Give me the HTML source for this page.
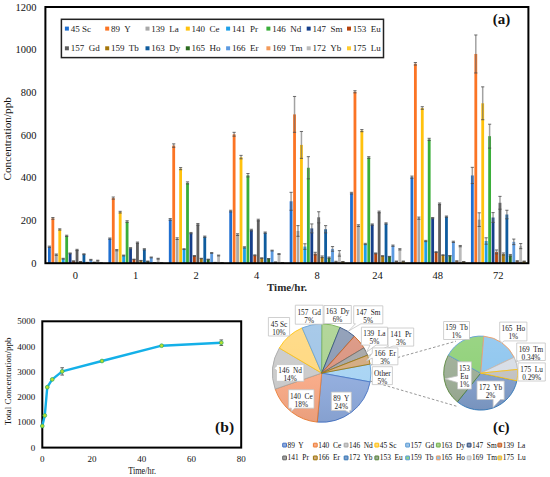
<!DOCTYPE html><html><head><meta charset="utf-8"><style>html,body{margin:0;padding:0;background:#fff;width:550px;height:477px;overflow:hidden}svg{display:block}</style></head><body>
<svg width="550" height="477" viewBox="0 0 550 477" font-family="Liberation Serif, serif">
<rect width="550" height="477" fill="#fff"/>
<text x="36.5" y="266.8" font-size="10.5" text-anchor="end" fill="#111">0</text>
<text x="36.5" y="224.1" font-size="10.5" text-anchor="end" fill="#111">200</text>
<text x="36.5" y="181.4" font-size="10.5" text-anchor="end" fill="#111">400</text>
<text x="36.5" y="138.7" font-size="10.5" text-anchor="end" fill="#111">600</text>
<text x="36.5" y="96.0" font-size="10.5" text-anchor="end" fill="#111">800</text>
<text x="36.5" y="53.3" font-size="10.5" text-anchor="end" fill="#111">1000</text>
<text x="36.5" y="10.6" font-size="10.5" text-anchor="end" fill="#111">1200</text>
<text x="75.3" y="278.6" font-size="10.5" text-anchor="middle" fill="#111">0</text>
<text x="135.7" y="278.6" font-size="10.5" text-anchor="middle" fill="#111">1</text>
<text x="196.1" y="278.6" font-size="10.5" text-anchor="middle" fill="#111">2</text>
<text x="256.6" y="278.6" font-size="10.5" text-anchor="middle" fill="#111">4</text>
<text x="317.0" y="278.6" font-size="10.5" text-anchor="middle" fill="#111">8</text>
<text x="377.4" y="278.6" font-size="10.5" text-anchor="middle" fill="#111">24</text>
<text x="437.8" y="278.6" font-size="10.5" text-anchor="middle" fill="#111">48</text>
<text x="498.2" y="278.6" font-size="10.5" text-anchor="middle" fill="#111">72</text>
<text transform="translate(11,138.8) rotate(-90)" font-size="11.2" text-anchor="middle" fill="#111">Concentration/ppb</text>
<text x="287" y="291" font-size="11" font-weight="bold" text-anchor="middle" fill="#2a2a2a">Time/hr.</text>
<rect x="48.00" y="246.76" width="2.8" height="16.44" fill="#1f6fd1"/>
<rect x="51.46" y="218.36" width="2.8" height="44.84" fill="#fb7424"/>
<rect x="54.91" y="254.66" width="2.8" height="8.54" fill="#a8a8a8"/>
<rect x="58.36" y="229.47" width="2.8" height="33.73" fill="#ffc20e"/>
<rect x="61.81" y="258.72" width="2.8" height="4.48" fill="#1ea0e8"/>
<rect x="65.27" y="235.87" width="2.8" height="27.33" fill="#3aae3a"/>
<rect x="68.72" y="253.38" width="2.8" height="9.82" fill="#163f8a"/>
<rect x="72.17" y="261.06" width="2.8" height="2.13" fill="#b6440e"/>
<rect x="75.63" y="249.96" width="2.8" height="13.24" fill="#5e5e5e"/>
<rect x="79.08" y="261.71" width="2.8" height="1.49" fill="#a6760a"/>
<rect x="82.53" y="254.23" width="2.8" height="8.97" fill="#0f5c9e"/>
<rect x="85.99" y="262.56" width="2.8" height="0.64" fill="#2b6b1f"/>
<rect x="89.44" y="259.78" width="2.8" height="3.42" fill="#5c9ae0"/>
<rect x="92.89" y="262.35" width="2.8" height="0.85" fill="#f39a5a"/>
<rect x="96.34" y="260.64" width="2.8" height="2.56" fill="#bababa"/>
<rect x="99.80" y="262.99" width="2.8" height="0.21" fill="#ffcb2f"/>
<rect x="108.42" y="238.65" width="2.8" height="24.55" fill="#1f6fd1"/>
<rect x="111.88" y="198.08" width="2.8" height="65.12" fill="#fb7424"/>
<rect x="115.33" y="250.18" width="2.8" height="13.02" fill="#a8a8a8"/>
<rect x="118.78" y="212.17" width="2.8" height="51.03" fill="#ffc20e"/>
<rect x="122.23" y="255.51" width="2.8" height="7.69" fill="#1ea0e8"/>
<rect x="125.69" y="221.57" width="2.8" height="41.63" fill="#3aae3a"/>
<rect x="129.14" y="248.25" width="2.8" height="14.95" fill="#163f8a"/>
<rect x="132.59" y="259.36" width="2.8" height="3.84" fill="#b6440e"/>
<rect x="136.05" y="242.70" width="2.8" height="20.50" fill="#5e5e5e"/>
<rect x="139.50" y="260.64" width="2.8" height="2.56" fill="#a6760a"/>
<rect x="142.95" y="249.32" width="2.8" height="13.88" fill="#0f5c9e"/>
<rect x="146.41" y="261.28" width="2.8" height="1.92" fill="#2b6b1f"/>
<rect x="149.86" y="257.44" width="2.8" height="5.76" fill="#5c9ae0"/>
<rect x="153.31" y="262.77" width="2.8" height="0.43" fill="#f39a5a"/>
<rect x="156.76" y="258.72" width="2.8" height="4.48" fill="#bababa"/>
<rect x="160.22" y="262.99" width="2.8" height="0.21" fill="#ffcb2f"/>
<rect x="168.84" y="219.43" width="2.8" height="43.77" fill="#1f6fd1"/>
<rect x="172.30" y="145.56" width="2.8" height="117.64" fill="#fb7424"/>
<rect x="175.75" y="238.65" width="2.8" height="24.55" fill="#a8a8a8"/>
<rect x="179.20" y="168.62" width="2.8" height="94.58" fill="#ffc20e"/>
<rect x="182.65" y="249.11" width="2.8" height="14.09" fill="#1ea0e8"/>
<rect x="186.11" y="182.92" width="2.8" height="80.28" fill="#3aae3a"/>
<rect x="189.56" y="233.10" width="2.8" height="30.10" fill="#163f8a"/>
<rect x="193.01" y="255.94" width="2.8" height="7.26" fill="#b6440e"/>
<rect x="196.47" y="224.34" width="2.8" height="38.86" fill="#5e5e5e"/>
<rect x="199.92" y="258.50" width="2.8" height="4.70" fill="#a6760a"/>
<rect x="203.37" y="236.73" width="2.8" height="26.47" fill="#0f5c9e"/>
<rect x="206.83" y="259.36" width="2.8" height="3.84" fill="#2b6b1f"/>
<rect x="210.28" y="252.95" width="2.8" height="10.25" fill="#5c9ae0"/>
<rect x="213.73" y="262.56" width="2.8" height="0.64" fill="#f39a5a"/>
<rect x="217.18" y="255.51" width="2.8" height="7.69" fill="#bababa"/>
<rect x="220.64" y="262.77" width="2.8" height="0.43" fill="#ffcb2f"/>
<rect x="229.26" y="211.11" width="2.8" height="52.09" fill="#1f6fd1"/>
<rect x="232.72" y="134.25" width="2.8" height="128.95" fill="#fb7424"/>
<rect x="236.17" y="234.59" width="2.8" height="28.61" fill="#a8a8a8"/>
<rect x="239.62" y="157.09" width="2.8" height="106.11" fill="#ffc20e"/>
<rect x="243.07" y="247.40" width="2.8" height="15.80" fill="#1ea0e8"/>
<rect x="246.53" y="175.24" width="2.8" height="87.96" fill="#3aae3a"/>
<rect x="249.98" y="230.11" width="2.8" height="33.09" fill="#163f8a"/>
<rect x="253.43" y="255.30" width="2.8" height="7.90" fill="#b6440e"/>
<rect x="256.89" y="220.07" width="2.8" height="43.13" fill="#5e5e5e"/>
<rect x="260.34" y="258.08" width="2.8" height="5.12" fill="#a6760a"/>
<rect x="263.79" y="232.67" width="2.8" height="30.53" fill="#0f5c9e"/>
<rect x="267.25" y="258.72" width="2.8" height="4.48" fill="#2b6b1f"/>
<rect x="270.70" y="250.60" width="2.8" height="12.60" fill="#5c9ae0"/>
<rect x="274.15" y="262.13" width="2.8" height="1.07" fill="#f39a5a"/>
<rect x="277.60" y="254.02" width="2.8" height="9.18" fill="#bababa"/>
<rect x="281.06" y="262.77" width="2.8" height="0.43" fill="#ffcb2f"/>
<rect x="289.68" y="201.28" width="2.8" height="61.91" fill="#1f6fd1"/>
<rect x="293.14" y="114.39" width="2.8" height="148.81" fill="#fb7424"/>
<rect x="296.59" y="230.96" width="2.8" height="32.24" fill="#a8a8a8"/>
<rect x="300.04" y="144.92" width="2.8" height="118.28" fill="#ffc20e"/>
<rect x="303.49" y="246.55" width="2.8" height="16.65" fill="#1ea0e8"/>
<rect x="306.95" y="167.77" width="2.8" height="95.43" fill="#3aae3a"/>
<rect x="310.40" y="228.40" width="2.8" height="34.80" fill="#163f8a"/>
<rect x="313.85" y="253.59" width="2.8" height="9.61" fill="#b6440e"/>
<rect x="317.31" y="217.30" width="2.8" height="45.90" fill="#5e5e5e"/>
<rect x="320.76" y="256.80" width="2.8" height="6.41" fill="#a6760a"/>
<rect x="324.21" y="229.25" width="2.8" height="33.95" fill="#0f5c9e"/>
<rect x="327.67" y="257.65" width="2.8" height="5.55" fill="#2b6b1f"/>
<rect x="331.12" y="248.90" width="2.8" height="14.30" fill="#5c9ae0"/>
<rect x="334.57" y="261.71" width="2.8" height="1.49" fill="#f39a5a"/>
<rect x="338.02" y="253.38" width="2.8" height="9.82" fill="#bababa"/>
<rect x="341.48" y="261.71" width="2.8" height="1.49" fill="#ffcb2f"/>
<rect x="350.10" y="193.17" width="2.8" height="70.03" fill="#1f6fd1"/>
<rect x="353.56" y="91.76" width="2.8" height="171.44" fill="#fb7424"/>
<rect x="357.01" y="225.62" width="2.8" height="37.58" fill="#a8a8a8"/>
<rect x="360.46" y="130.62" width="2.8" height="132.58" fill="#ffc20e"/>
<rect x="363.91" y="243.98" width="2.8" height="19.21" fill="#1ea0e8"/>
<rect x="367.37" y="157.52" width="2.8" height="105.68" fill="#3aae3a"/>
<rect x="370.82" y="224.56" width="2.8" height="38.64" fill="#163f8a"/>
<rect x="374.27" y="253.38" width="2.8" height="9.82" fill="#b6440e"/>
<rect x="377.73" y="211.96" width="2.8" height="51.24" fill="#5e5e5e"/>
<rect x="381.18" y="255.94" width="2.8" height="7.26" fill="#a6760a"/>
<rect x="384.63" y="223.49" width="2.8" height="39.71" fill="#0f5c9e"/>
<rect x="388.09" y="256.58" width="2.8" height="6.62" fill="#2b6b1f"/>
<rect x="391.54" y="245.69" width="2.8" height="17.51" fill="#5c9ae0"/>
<rect x="394.99" y="261.28" width="2.8" height="1.92" fill="#f39a5a"/>
<rect x="398.44" y="249.32" width="2.8" height="13.88" fill="#bababa"/>
<rect x="401.90" y="261.28" width="2.8" height="1.92" fill="#ffcb2f"/>
<rect x="410.52" y="177.16" width="2.8" height="86.04" fill="#1f6fd1"/>
<rect x="413.98" y="63.79" width="2.8" height="199.41" fill="#fb7424"/>
<rect x="417.43" y="218.15" width="2.8" height="45.05" fill="#a8a8a8"/>
<rect x="420.88" y="107.99" width="2.8" height="155.21" fill="#ffc20e"/>
<rect x="424.33" y="241.00" width="2.8" height="22.20" fill="#1ea0e8"/>
<rect x="427.79" y="139.37" width="2.8" height="123.83" fill="#3aae3a"/>
<rect x="431.24" y="218.15" width="2.8" height="45.05" fill="#163f8a"/>
<rect x="434.69" y="252.10" width="2.8" height="11.10" fill="#b6440e"/>
<rect x="438.15" y="203.85" width="2.8" height="59.35" fill="#5e5e5e"/>
<rect x="441.60" y="255.09" width="2.8" height="8.11" fill="#a6760a"/>
<rect x="445.05" y="216.66" width="2.8" height="46.54" fill="#0f5c9e"/>
<rect x="448.51" y="255.73" width="2.8" height="7.47" fill="#2b6b1f"/>
<rect x="451.96" y="241.85" width="2.8" height="21.35" fill="#5c9ae0"/>
<rect x="455.41" y="261.06" width="2.8" height="2.13" fill="#f39a5a"/>
<rect x="458.86" y="246.12" width="2.8" height="17.08" fill="#bababa"/>
<rect x="462.32" y="261.71" width="2.8" height="1.49" fill="#ffcb2f"/>
<rect x="470.94" y="175.45" width="2.8" height="87.75" fill="#1f6fd1"/>
<rect x="474.40" y="53.97" width="2.8" height="209.23" fill="#fb7424"/>
<rect x="477.85" y="219.65" width="2.8" height="43.55" fill="#a8a8a8"/>
<rect x="481.30" y="103.29" width="2.8" height="159.91" fill="#ffc20e"/>
<rect x="484.75" y="241.00" width="2.8" height="22.20" fill="#1ea0e8"/>
<rect x="488.21" y="136.17" width="2.8" height="127.03" fill="#3aae3a"/>
<rect x="491.66" y="217.51" width="2.8" height="45.69" fill="#163f8a"/>
<rect x="495.11" y="251.88" width="2.8" height="11.32" fill="#b6440e"/>
<rect x="498.57" y="202.78" width="2.8" height="60.42" fill="#5e5e5e"/>
<rect x="502.02" y="254.02" width="2.8" height="9.18" fill="#a6760a"/>
<rect x="505.47" y="214.52" width="2.8" height="48.68" fill="#0f5c9e"/>
<rect x="508.93" y="255.30" width="2.8" height="7.90" fill="#2b6b1f"/>
<rect x="512.38" y="241.85" width="2.8" height="21.35" fill="#5c9ae0"/>
<rect x="515.83" y="261.06" width="2.8" height="2.13" fill="#f39a5a"/>
<rect x="519.28" y="246.12" width="2.8" height="17.08" fill="#bababa"/>
<rect x="522.74" y="261.28" width="2.8" height="1.92" fill="#ffcb2f"/>
<path d="M49.40 246.12V247.40" stroke="#707070" stroke-opacity="0.65" stroke-width="1.5" fill="none"/><path d="M47.80 246.12h3.2M47.80 247.40h3.2" stroke="#4a4a4a" stroke-width="0.8" fill="none"/>
<path d="M52.86 217.51V219.22" stroke="#707070" stroke-opacity="0.65" stroke-width="1.5" fill="none"/><path d="M51.26 217.51h3.2M51.26 219.22h3.2" stroke="#4a4a4a" stroke-width="0.8" fill="none"/>
<path d="M56.31 254.02V255.30" stroke="#707070" stroke-opacity="0.65" stroke-width="1.5" fill="none"/><path d="M54.71 254.02h3.2M54.71 255.30h3.2" stroke="#4a4a4a" stroke-width="0.8" fill="none"/>
<path d="M59.76 228.83V230.11" stroke="#707070" stroke-opacity="0.65" stroke-width="1.5" fill="none"/><path d="M58.16 228.83h3.2M58.16 230.11h3.2" stroke="#4a4a4a" stroke-width="0.8" fill="none"/>
<path d="M63.21 258.29V259.14" stroke="#707070" stroke-opacity="0.65" stroke-width="1.5" fill="none"/><path d="M61.61 258.29h3.2M61.61 259.14h3.2" stroke="#4a4a4a" stroke-width="0.8" fill="none"/>
<path d="M66.67 235.23V236.51" stroke="#707070" stroke-opacity="0.65" stroke-width="1.5" fill="none"/><path d="M65.07 235.23h3.2M65.07 236.51h3.2" stroke="#4a4a4a" stroke-width="0.8" fill="none"/>
<path d="M70.12 252.95V253.81" stroke="#707070" stroke-opacity="0.65" stroke-width="1.5" fill="none"/><path d="M68.52 252.95h3.2M68.52 253.81h3.2" stroke="#4a4a4a" stroke-width="0.8" fill="none"/>
<path d="M73.57 260.85V261.28" stroke="#707070" stroke-opacity="0.65" stroke-width="1.5" fill="none"/><path d="M71.97 260.85h3.2M71.97 261.28h3.2" stroke="#4a4a4a" stroke-width="0.8" fill="none"/>
<path d="M77.03 249.32V250.60" stroke="#707070" stroke-opacity="0.65" stroke-width="1.5" fill="none"/><path d="M75.43 249.32h3.2M75.43 250.60h3.2" stroke="#4a4a4a" stroke-width="0.8" fill="none"/>
<path d="M80.48 261.49V261.92" stroke="#707070" stroke-opacity="0.65" stroke-width="1.5" fill="none"/><path d="M78.88 261.49h3.2M78.88 261.92h3.2" stroke="#4a4a4a" stroke-width="0.8" fill="none"/>
<path d="M83.93 253.81V254.66" stroke="#707070" stroke-opacity="0.65" stroke-width="1.5" fill="none"/><path d="M82.33 253.81h3.2M82.33 254.66h3.2" stroke="#4a4a4a" stroke-width="0.8" fill="none"/>
<path d="M87.39 262.35V262.77" stroke="#707070" stroke-opacity="0.65" stroke-width="1.5" fill="none"/><path d="M85.79 262.35h3.2M85.79 262.77h3.2" stroke="#4a4a4a" stroke-width="0.8" fill="none"/>
<path d="M90.84 259.36V260.21" stroke="#707070" stroke-opacity="0.65" stroke-width="1.5" fill="none"/><path d="M89.24 259.36h3.2M89.24 260.21h3.2" stroke="#4a4a4a" stroke-width="0.8" fill="none"/>
<path d="M94.29 262.13V262.56" stroke="#707070" stroke-opacity="0.65" stroke-width="1.5" fill="none"/><path d="M92.69 262.13h3.2M92.69 262.56h3.2" stroke="#4a4a4a" stroke-width="0.8" fill="none"/>
<path d="M97.74 260.21V261.06" stroke="#707070" stroke-opacity="0.65" stroke-width="1.5" fill="none"/><path d="M96.14 260.21h3.2M96.14 261.06h3.2" stroke="#4a4a4a" stroke-width="0.8" fill="none"/>
<path d="M101.20 262.99V262.99" stroke="#707070" stroke-opacity="0.65" stroke-width="1.5" fill="none"/><path d="M99.60 262.99h3.2M99.60 262.99h3.2" stroke="#4a4a4a" stroke-width="0.8" fill="none"/>
<path d="M109.82 238.01V239.29" stroke="#707070" stroke-opacity="0.65" stroke-width="1.5" fill="none"/><path d="M108.22 238.01h3.2M108.22 239.29h3.2" stroke="#4a4a4a" stroke-width="0.8" fill="none"/>
<path d="M113.28 197.01V199.15" stroke="#707070" stroke-opacity="0.65" stroke-width="1.5" fill="none"/><path d="M111.68 197.01h3.2M111.68 199.15h3.2" stroke="#4a4a4a" stroke-width="0.8" fill="none"/>
<path d="M116.73 249.54V250.82" stroke="#707070" stroke-opacity="0.65" stroke-width="1.5" fill="none"/><path d="M115.13 249.54h3.2M115.13 250.82h3.2" stroke="#4a4a4a" stroke-width="0.8" fill="none"/>
<path d="M120.18 211.32V213.03" stroke="#707070" stroke-opacity="0.65" stroke-width="1.5" fill="none"/><path d="M118.58 211.32h3.2M118.58 213.03h3.2" stroke="#4a4a4a" stroke-width="0.8" fill="none"/>
<path d="M123.63 255.09V255.94" stroke="#707070" stroke-opacity="0.65" stroke-width="1.5" fill="none"/><path d="M122.03 255.09h3.2M122.03 255.94h3.2" stroke="#4a4a4a" stroke-width="0.8" fill="none"/>
<path d="M127.09 220.71V222.42" stroke="#707070" stroke-opacity="0.65" stroke-width="1.5" fill="none"/><path d="M125.49 220.71h3.2M125.49 222.42h3.2" stroke="#4a4a4a" stroke-width="0.8" fill="none"/>
<path d="M130.54 247.61V248.90" stroke="#707070" stroke-opacity="0.65" stroke-width="1.5" fill="none"/><path d="M128.94 247.61h3.2M128.94 248.90h3.2" stroke="#4a4a4a" stroke-width="0.8" fill="none"/>
<path d="M133.99 259.14V259.57" stroke="#707070" stroke-opacity="0.65" stroke-width="1.5" fill="none"/><path d="M132.39 259.14h3.2M132.39 259.57h3.2" stroke="#4a4a4a" stroke-width="0.8" fill="none"/>
<path d="M137.45 242.06V243.34" stroke="#707070" stroke-opacity="0.65" stroke-width="1.5" fill="none"/><path d="M135.85 242.06h3.2M135.85 243.34h3.2" stroke="#4a4a4a" stroke-width="0.8" fill="none"/>
<path d="M140.90 260.42V260.85" stroke="#707070" stroke-opacity="0.65" stroke-width="1.5" fill="none"/><path d="M139.30 260.42h3.2M139.30 260.85h3.2" stroke="#4a4a4a" stroke-width="0.8" fill="none"/>
<path d="M144.35 248.68V249.96" stroke="#707070" stroke-opacity="0.65" stroke-width="1.5" fill="none"/><path d="M142.75 248.68h3.2M142.75 249.96h3.2" stroke="#4a4a4a" stroke-width="0.8" fill="none"/>
<path d="M147.81 261.06V261.49" stroke="#707070" stroke-opacity="0.65" stroke-width="1.5" fill="none"/><path d="M146.21 261.06h3.2M146.21 261.49h3.2" stroke="#4a4a4a" stroke-width="0.8" fill="none"/>
<path d="M151.26 257.01V257.86" stroke="#707070" stroke-opacity="0.65" stroke-width="1.5" fill="none"/><path d="M149.66 257.01h3.2M149.66 257.86h3.2" stroke="#4a4a4a" stroke-width="0.8" fill="none"/>
<path d="M154.71 262.56V262.99" stroke="#707070" stroke-opacity="0.65" stroke-width="1.5" fill="none"/><path d="M153.11 262.56h3.2M153.11 262.99h3.2" stroke="#4a4a4a" stroke-width="0.8" fill="none"/>
<path d="M158.16 258.29V259.14" stroke="#707070" stroke-opacity="0.65" stroke-width="1.5" fill="none"/><path d="M156.56 258.29h3.2M156.56 259.14h3.2" stroke="#4a4a4a" stroke-width="0.8" fill="none"/>
<path d="M161.62 262.99V262.99" stroke="#707070" stroke-opacity="0.65" stroke-width="1.5" fill="none"/><path d="M160.02 262.99h3.2M160.02 262.99h3.2" stroke="#4a4a4a" stroke-width="0.8" fill="none"/>
<path d="M170.24 218.58V220.29" stroke="#707070" stroke-opacity="0.65" stroke-width="1.5" fill="none"/><path d="M168.64 218.58h3.2M168.64 220.29h3.2" stroke="#4a4a4a" stroke-width="0.8" fill="none"/>
<path d="M173.70 143.85V147.27" stroke="#707070" stroke-opacity="0.65" stroke-width="1.5" fill="none"/><path d="M172.10 143.85h3.2M172.10 147.27h3.2" stroke="#4a4a4a" stroke-width="0.8" fill="none"/>
<path d="M177.15 237.79V239.50" stroke="#707070" stroke-opacity="0.65" stroke-width="1.5" fill="none"/><path d="M175.55 237.79h3.2M175.55 239.50h3.2" stroke="#4a4a4a" stroke-width="0.8" fill="none"/>
<path d="M180.60 167.55V169.69" stroke="#707070" stroke-opacity="0.65" stroke-width="1.5" fill="none"/><path d="M179.00 167.55h3.2M179.00 169.69h3.2" stroke="#4a4a4a" stroke-width="0.8" fill="none"/>
<path d="M184.05 248.68V249.54" stroke="#707070" stroke-opacity="0.65" stroke-width="1.5" fill="none"/><path d="M182.45 248.68h3.2M182.45 249.54h3.2" stroke="#4a4a4a" stroke-width="0.8" fill="none"/>
<path d="M187.51 181.86V183.99" stroke="#707070" stroke-opacity="0.65" stroke-width="1.5" fill="none"/><path d="M185.91 181.86h3.2M185.91 183.99h3.2" stroke="#4a4a4a" stroke-width="0.8" fill="none"/>
<path d="M190.96 232.46V233.74" stroke="#707070" stroke-opacity="0.65" stroke-width="1.5" fill="none"/><path d="M189.36 232.46h3.2M189.36 233.74h3.2" stroke="#4a4a4a" stroke-width="0.8" fill="none"/>
<path d="M194.41 255.51V256.37" stroke="#707070" stroke-opacity="0.65" stroke-width="1.5" fill="none"/><path d="M192.81 255.51h3.2M192.81 256.37h3.2" stroke="#4a4a4a" stroke-width="0.8" fill="none"/>
<path d="M197.87 223.49V225.20" stroke="#707070" stroke-opacity="0.65" stroke-width="1.5" fill="none"/><path d="M196.27 223.49h3.2M196.27 225.20h3.2" stroke="#4a4a4a" stroke-width="0.8" fill="none"/>
<path d="M201.32 258.29V258.72" stroke="#707070" stroke-opacity="0.65" stroke-width="1.5" fill="none"/><path d="M199.72 258.29h3.2M199.72 258.72h3.2" stroke="#4a4a4a" stroke-width="0.8" fill="none"/>
<path d="M204.77 236.09V237.37" stroke="#707070" stroke-opacity="0.65" stroke-width="1.5" fill="none"/><path d="M203.17 236.09h3.2M203.17 237.37h3.2" stroke="#4a4a4a" stroke-width="0.8" fill="none"/>
<path d="M208.23 259.14V259.57" stroke="#707070" stroke-opacity="0.65" stroke-width="1.5" fill="none"/><path d="M206.63 259.14h3.2M206.63 259.57h3.2" stroke="#4a4a4a" stroke-width="0.8" fill="none"/>
<path d="M211.68 252.52V253.38" stroke="#707070" stroke-opacity="0.65" stroke-width="1.5" fill="none"/><path d="M210.08 252.52h3.2M210.08 253.38h3.2" stroke="#4a4a4a" stroke-width="0.8" fill="none"/>
<path d="M215.13 262.35V262.77" stroke="#707070" stroke-opacity="0.65" stroke-width="1.5" fill="none"/><path d="M213.53 262.35h3.2M213.53 262.77h3.2" stroke="#4a4a4a" stroke-width="0.8" fill="none"/>
<path d="M218.58 255.09V255.94" stroke="#707070" stroke-opacity="0.65" stroke-width="1.5" fill="none"/><path d="M216.98 255.09h3.2M216.98 255.94h3.2" stroke="#4a4a4a" stroke-width="0.8" fill="none"/>
<path d="M222.04 262.77V262.77" stroke="#707070" stroke-opacity="0.65" stroke-width="1.5" fill="none"/><path d="M220.44 262.77h3.2M220.44 262.77h3.2" stroke="#4a4a4a" stroke-width="0.8" fill="none"/>
<path d="M230.66 210.25V211.96" stroke="#707070" stroke-opacity="0.65" stroke-width="1.5" fill="none"/><path d="M229.06 210.25h3.2M229.06 211.96h3.2" stroke="#4a4a4a" stroke-width="0.8" fill="none"/>
<path d="M234.12 132.32V136.17" stroke="#707070" stroke-opacity="0.65" stroke-width="1.5" fill="none"/><path d="M232.52 132.32h3.2M232.52 136.17h3.2" stroke="#4a4a4a" stroke-width="0.8" fill="none"/>
<path d="M237.57 233.74V235.44" stroke="#707070" stroke-opacity="0.65" stroke-width="1.5" fill="none"/><path d="M235.97 233.74h3.2M235.97 235.44h3.2" stroke="#4a4a4a" stroke-width="0.8" fill="none"/>
<path d="M241.02 155.38V158.80" stroke="#707070" stroke-opacity="0.65" stroke-width="1.5" fill="none"/><path d="M239.42 155.38h3.2M239.42 158.80h3.2" stroke="#4a4a4a" stroke-width="0.8" fill="none"/>
<path d="M244.47 246.76V248.04" stroke="#707070" stroke-opacity="0.65" stroke-width="1.5" fill="none"/><path d="M242.87 246.76h3.2M242.87 248.04h3.2" stroke="#4a4a4a" stroke-width="0.8" fill="none"/>
<path d="M247.93 173.53V176.95" stroke="#707070" stroke-opacity="0.65" stroke-width="1.5" fill="none"/><path d="M246.33 173.53h3.2M246.33 176.95h3.2" stroke="#4a4a4a" stroke-width="0.8" fill="none"/>
<path d="M251.38 229.25V230.96" stroke="#707070" stroke-opacity="0.65" stroke-width="1.5" fill="none"/><path d="M249.78 229.25h3.2M249.78 230.96h3.2" stroke="#4a4a4a" stroke-width="0.8" fill="none"/>
<path d="M254.83 254.87V255.73" stroke="#707070" stroke-opacity="0.65" stroke-width="1.5" fill="none"/><path d="M253.23 254.87h3.2M253.23 255.73h3.2" stroke="#4a4a4a" stroke-width="0.8" fill="none"/>
<path d="M258.29 219.22V220.93" stroke="#707070" stroke-opacity="0.65" stroke-width="1.5" fill="none"/><path d="M256.69 219.22h3.2M256.69 220.93h3.2" stroke="#4a4a4a" stroke-width="0.8" fill="none"/>
<path d="M261.74 257.86V258.29" stroke="#707070" stroke-opacity="0.65" stroke-width="1.5" fill="none"/><path d="M260.14 257.86h3.2M260.14 258.29h3.2" stroke="#4a4a4a" stroke-width="0.8" fill="none"/>
<path d="M265.19 232.03V233.31" stroke="#707070" stroke-opacity="0.65" stroke-width="1.5" fill="none"/><path d="M263.59 232.03h3.2M263.59 233.31h3.2" stroke="#4a4a4a" stroke-width="0.8" fill="none"/>
<path d="M268.65 258.50V258.93" stroke="#707070" stroke-opacity="0.65" stroke-width="1.5" fill="none"/><path d="M267.05 258.50h3.2M267.05 258.93h3.2" stroke="#4a4a4a" stroke-width="0.8" fill="none"/>
<path d="M272.10 250.18V251.03" stroke="#707070" stroke-opacity="0.65" stroke-width="1.5" fill="none"/><path d="M270.50 250.18h3.2M270.50 251.03h3.2" stroke="#4a4a4a" stroke-width="0.8" fill="none"/>
<path d="M275.55 261.92V262.35" stroke="#707070" stroke-opacity="0.65" stroke-width="1.5" fill="none"/><path d="M273.95 261.92h3.2M273.95 262.35h3.2" stroke="#4a4a4a" stroke-width="0.8" fill="none"/>
<path d="M279.00 253.59V254.45" stroke="#707070" stroke-opacity="0.65" stroke-width="1.5" fill="none"/><path d="M277.40 253.59h3.2M277.40 254.45h3.2" stroke="#4a4a4a" stroke-width="0.8" fill="none"/>
<path d="M282.46 262.77V262.77" stroke="#707070" stroke-opacity="0.65" stroke-width="1.5" fill="none"/><path d="M280.86 262.77h3.2M280.86 262.77h3.2" stroke="#4a4a4a" stroke-width="0.8" fill="none"/>
<path d="M291.08 192.32V210.25" stroke="#707070" stroke-opacity="0.65" stroke-width="1.5" fill="none"/><path d="M289.48 192.32h3.2M289.48 210.25h3.2" stroke="#4a4a4a" stroke-width="0.8" fill="none"/>
<path d="M294.54 96.46V132.32" stroke="#707070" stroke-opacity="0.65" stroke-width="1.5" fill="none"/><path d="M292.94 96.46h3.2M292.94 132.32h3.2" stroke="#4a4a4a" stroke-width="0.8" fill="none"/>
<path d="M297.99 225.62V236.30" stroke="#707070" stroke-opacity="0.65" stroke-width="1.5" fill="none"/><path d="M296.39 225.62h3.2M296.39 236.30h3.2" stroke="#4a4a4a" stroke-width="0.8" fill="none"/>
<path d="M301.44 131.47V158.37" stroke="#707070" stroke-opacity="0.65" stroke-width="1.5" fill="none"/><path d="M299.84 131.47h3.2M299.84 158.37h3.2" stroke="#4a4a4a" stroke-width="0.8" fill="none"/>
<path d="M304.89 243.77V249.32" stroke="#707070" stroke-opacity="0.65" stroke-width="1.5" fill="none"/><path d="M303.29 243.77h3.2M303.29 249.32h3.2" stroke="#4a4a4a" stroke-width="0.8" fill="none"/>
<path d="M308.35 156.66V178.87" stroke="#707070" stroke-opacity="0.65" stroke-width="1.5" fill="none"/><path d="M306.75 156.66h3.2M306.75 178.87h3.2" stroke="#4a4a4a" stroke-width="0.8" fill="none"/>
<path d="M311.80 223.92V232.88" stroke="#707070" stroke-opacity="0.65" stroke-width="1.5" fill="none"/><path d="M310.20 223.92h3.2M310.20 232.88h3.2" stroke="#4a4a4a" stroke-width="0.8" fill="none"/>
<path d="M315.25 252.31V254.87" stroke="#707070" stroke-opacity="0.65" stroke-width="1.5" fill="none"/><path d="M313.65 252.31h3.2M313.65 254.87h3.2" stroke="#4a4a4a" stroke-width="0.8" fill="none"/>
<path d="M318.71 211.75V222.85" stroke="#707070" stroke-opacity="0.65" stroke-width="1.5" fill="none"/><path d="M317.11 211.75h3.2M317.11 222.85h3.2" stroke="#4a4a4a" stroke-width="0.8" fill="none"/>
<path d="M322.16 255.94V257.65" stroke="#707070" stroke-opacity="0.65" stroke-width="1.5" fill="none"/><path d="M320.56 255.94h3.2M320.56 257.65h3.2" stroke="#4a4a4a" stroke-width="0.8" fill="none"/>
<path d="M325.61 225.62V232.88" stroke="#707070" stroke-opacity="0.65" stroke-width="1.5" fill="none"/><path d="M324.01 225.62h3.2M324.01 232.88h3.2" stroke="#4a4a4a" stroke-width="0.8" fill="none"/>
<path d="M329.07 257.01V258.29" stroke="#707070" stroke-opacity="0.65" stroke-width="1.5" fill="none"/><path d="M327.47 257.01h3.2M327.47 258.29h3.2" stroke="#4a4a4a" stroke-width="0.8" fill="none"/>
<path d="M332.52 246.55V251.24" stroke="#707070" stroke-opacity="0.65" stroke-width="1.5" fill="none"/><path d="M330.92 246.55h3.2M330.92 251.24h3.2" stroke="#4a4a4a" stroke-width="0.8" fill="none"/>
<path d="M335.97 261.28V262.13" stroke="#707070" stroke-opacity="0.65" stroke-width="1.5" fill="none"/><path d="M334.37 261.28h3.2M334.37 262.13h3.2" stroke="#4a4a4a" stroke-width="0.8" fill="none"/>
<path d="M339.42 250.60V256.15" stroke="#707070" stroke-opacity="0.65" stroke-width="1.5" fill="none"/><path d="M337.82 250.60h3.2M337.82 256.15h3.2" stroke="#4a4a4a" stroke-width="0.8" fill="none"/>
<path d="M342.88 261.49V261.92" stroke="#707070" stroke-opacity="0.65" stroke-width="1.5" fill="none"/><path d="M341.28 261.49h3.2M341.28 261.92h3.2" stroke="#4a4a4a" stroke-width="0.8" fill="none"/>
<path d="M351.50 192.32V194.03" stroke="#707070" stroke-opacity="0.65" stroke-width="1.5" fill="none"/><path d="M349.90 192.32h3.2M349.90 194.03h3.2" stroke="#4a4a4a" stroke-width="0.8" fill="none"/>
<path d="M354.96 90.69V92.83" stroke="#707070" stroke-opacity="0.65" stroke-width="1.5" fill="none"/><path d="M353.36 90.69h3.2M353.36 92.83h3.2" stroke="#4a4a4a" stroke-width="0.8" fill="none"/>
<path d="M358.41 224.77V226.48" stroke="#707070" stroke-opacity="0.65" stroke-width="1.5" fill="none"/><path d="M356.81 224.77h3.2M356.81 226.48h3.2" stroke="#4a4a4a" stroke-width="0.8" fill="none"/>
<path d="M361.86 129.55V131.68" stroke="#707070" stroke-opacity="0.65" stroke-width="1.5" fill="none"/><path d="M360.26 129.55h3.2M360.26 131.68h3.2" stroke="#4a4a4a" stroke-width="0.8" fill="none"/>
<path d="M365.31 243.34V244.63" stroke="#707070" stroke-opacity="0.65" stroke-width="1.5" fill="none"/><path d="M363.71 243.34h3.2M363.71 244.63h3.2" stroke="#4a4a4a" stroke-width="0.8" fill="none"/>
<path d="M368.77 156.66V158.37" stroke="#707070" stroke-opacity="0.65" stroke-width="1.5" fill="none"/><path d="M367.17 156.66h3.2M367.17 158.37h3.2" stroke="#4a4a4a" stroke-width="0.8" fill="none"/>
<path d="M372.22 223.92V225.20" stroke="#707070" stroke-opacity="0.65" stroke-width="1.5" fill="none"/><path d="M370.62 223.92h3.2M370.62 225.20h3.2" stroke="#4a4a4a" stroke-width="0.8" fill="none"/>
<path d="M375.67 252.95V253.81" stroke="#707070" stroke-opacity="0.65" stroke-width="1.5" fill="none"/><path d="M374.07 252.95h3.2M374.07 253.81h3.2" stroke="#4a4a4a" stroke-width="0.8" fill="none"/>
<path d="M379.13 211.11V212.81" stroke="#707070" stroke-opacity="0.65" stroke-width="1.5" fill="none"/><path d="M377.53 211.11h3.2M377.53 212.81h3.2" stroke="#4a4a4a" stroke-width="0.8" fill="none"/>
<path d="M382.58 255.73V256.15" stroke="#707070" stroke-opacity="0.65" stroke-width="1.5" fill="none"/><path d="M380.98 255.73h3.2M380.98 256.15h3.2" stroke="#4a4a4a" stroke-width="0.8" fill="none"/>
<path d="M386.03 222.85V224.13" stroke="#707070" stroke-opacity="0.65" stroke-width="1.5" fill="none"/><path d="M384.43 222.85h3.2M384.43 224.13h3.2" stroke="#4a4a4a" stroke-width="0.8" fill="none"/>
<path d="M389.49 256.37V256.80" stroke="#707070" stroke-opacity="0.65" stroke-width="1.5" fill="none"/><path d="M387.89 256.37h3.2M387.89 256.80h3.2" stroke="#4a4a4a" stroke-width="0.8" fill="none"/>
<path d="M392.94 245.05V246.33" stroke="#707070" stroke-opacity="0.65" stroke-width="1.5" fill="none"/><path d="M391.34 245.05h3.2M391.34 246.33h3.2" stroke="#4a4a4a" stroke-width="0.8" fill="none"/>
<path d="M396.39 261.06V261.49" stroke="#707070" stroke-opacity="0.65" stroke-width="1.5" fill="none"/><path d="M394.79 261.06h3.2M394.79 261.49h3.2" stroke="#4a4a4a" stroke-width="0.8" fill="none"/>
<path d="M399.84 248.68V249.96" stroke="#707070" stroke-opacity="0.65" stroke-width="1.5" fill="none"/><path d="M398.24 248.68h3.2M398.24 249.96h3.2" stroke="#4a4a4a" stroke-width="0.8" fill="none"/>
<path d="M403.30 261.06V261.49" stroke="#707070" stroke-opacity="0.65" stroke-width="1.5" fill="none"/><path d="M401.70 261.06h3.2M401.70 261.49h3.2" stroke="#4a4a4a" stroke-width="0.8" fill="none"/>
<path d="M411.92 176.09V178.23" stroke="#707070" stroke-opacity="0.65" stroke-width="1.5" fill="none"/><path d="M410.32 176.09h3.2M410.32 178.23h3.2" stroke="#4a4a4a" stroke-width="0.8" fill="none"/>
<path d="M415.38 62.51V65.07" stroke="#707070" stroke-opacity="0.65" stroke-width="1.5" fill="none"/><path d="M413.78 62.51h3.2M413.78 65.07h3.2" stroke="#4a4a4a" stroke-width="0.8" fill="none"/>
<path d="M418.83 217.08V219.22" stroke="#707070" stroke-opacity="0.65" stroke-width="1.5" fill="none"/><path d="M417.23 217.08h3.2M417.23 219.22h3.2" stroke="#4a4a4a" stroke-width="0.8" fill="none"/>
<path d="M422.28 106.70V109.27" stroke="#707070" stroke-opacity="0.65" stroke-width="1.5" fill="none"/><path d="M420.68 106.70h3.2M420.68 109.27h3.2" stroke="#4a4a4a" stroke-width="0.8" fill="none"/>
<path d="M425.73 240.36V241.64" stroke="#707070" stroke-opacity="0.65" stroke-width="1.5" fill="none"/><path d="M424.13 240.36h3.2M424.13 241.64h3.2" stroke="#4a4a4a" stroke-width="0.8" fill="none"/>
<path d="M429.19 138.30V140.44" stroke="#707070" stroke-opacity="0.65" stroke-width="1.5" fill="none"/><path d="M427.59 138.30h3.2M427.59 140.44h3.2" stroke="#4a4a4a" stroke-width="0.8" fill="none"/>
<path d="M432.64 217.51V218.79" stroke="#707070" stroke-opacity="0.65" stroke-width="1.5" fill="none"/><path d="M431.04 217.51h3.2M431.04 218.79h3.2" stroke="#4a4a4a" stroke-width="0.8" fill="none"/>
<path d="M436.09 251.67V252.52" stroke="#707070" stroke-opacity="0.65" stroke-width="1.5" fill="none"/><path d="M434.49 251.67h3.2M434.49 252.52h3.2" stroke="#4a4a4a" stroke-width="0.8" fill="none"/>
<path d="M439.55 202.99V204.70" stroke="#707070" stroke-opacity="0.65" stroke-width="1.5" fill="none"/><path d="M437.95 202.99h3.2M437.95 204.70h3.2" stroke="#4a4a4a" stroke-width="0.8" fill="none"/>
<path d="M443.00 254.87V255.30" stroke="#707070" stroke-opacity="0.65" stroke-width="1.5" fill="none"/><path d="M441.40 254.87h3.2M441.40 255.30h3.2" stroke="#4a4a4a" stroke-width="0.8" fill="none"/>
<path d="M446.45 216.02V217.30" stroke="#707070" stroke-opacity="0.65" stroke-width="1.5" fill="none"/><path d="M444.85 216.02h3.2M444.85 217.30h3.2" stroke="#4a4a4a" stroke-width="0.8" fill="none"/>
<path d="M449.91 255.51V255.94" stroke="#707070" stroke-opacity="0.65" stroke-width="1.5" fill="none"/><path d="M448.31 255.51h3.2M448.31 255.94h3.2" stroke="#4a4a4a" stroke-width="0.8" fill="none"/>
<path d="M453.36 241.21V242.49" stroke="#707070" stroke-opacity="0.65" stroke-width="1.5" fill="none"/><path d="M451.76 241.21h3.2M451.76 242.49h3.2" stroke="#4a4a4a" stroke-width="0.8" fill="none"/>
<path d="M456.81 260.85V261.28" stroke="#707070" stroke-opacity="0.65" stroke-width="1.5" fill="none"/><path d="M455.21 260.85h3.2M455.21 261.28h3.2" stroke="#4a4a4a" stroke-width="0.8" fill="none"/>
<path d="M460.26 245.48V246.76" stroke="#707070" stroke-opacity="0.65" stroke-width="1.5" fill="none"/><path d="M458.66 245.48h3.2M458.66 246.76h3.2" stroke="#4a4a4a" stroke-width="0.8" fill="none"/>
<path d="M463.72 261.49V261.92" stroke="#707070" stroke-opacity="0.65" stroke-width="1.5" fill="none"/><path d="M462.12 261.49h3.2M462.12 261.92h3.2" stroke="#4a4a4a" stroke-width="0.8" fill="none"/>
<path d="M472.34 167.34V183.56" stroke="#707070" stroke-opacity="0.65" stroke-width="1.5" fill="none"/><path d="M470.74 167.34h3.2M470.74 183.56h3.2" stroke="#4a4a4a" stroke-width="0.8" fill="none"/>
<path d="M475.80 34.97V72.97" stroke="#707070" stroke-opacity="0.65" stroke-width="1.5" fill="none"/><path d="M474.20 34.97h3.2M474.20 72.97h3.2" stroke="#4a4a4a" stroke-width="0.8" fill="none"/>
<path d="M479.25 212.81V226.48" stroke="#707070" stroke-opacity="0.65" stroke-width="1.5" fill="none"/><path d="M477.65 212.81h3.2M477.65 226.48h3.2" stroke="#4a4a4a" stroke-width="0.8" fill="none"/>
<path d="M482.70 86.85V119.73" stroke="#707070" stroke-opacity="0.65" stroke-width="1.5" fill="none"/><path d="M481.10 86.85h3.2M481.10 119.73h3.2" stroke="#4a4a4a" stroke-width="0.8" fill="none"/>
<path d="M486.15 237.79V244.20" stroke="#707070" stroke-opacity="0.65" stroke-width="1.5" fill="none"/><path d="M484.55 237.79h3.2M484.55 244.20h3.2" stroke="#4a4a4a" stroke-width="0.8" fill="none"/>
<path d="M489.61 124.21V148.12" stroke="#707070" stroke-opacity="0.65" stroke-width="1.5" fill="none"/><path d="M488.01 124.21h3.2M488.01 148.12h3.2" stroke="#4a4a4a" stroke-width="0.8" fill="none"/>
<path d="M493.06 212.60V222.42" stroke="#707070" stroke-opacity="0.65" stroke-width="1.5" fill="none"/><path d="M491.46 212.60h3.2M491.46 222.42h3.2" stroke="#4a4a4a" stroke-width="0.8" fill="none"/>
<path d="M496.51 249.96V253.81" stroke="#707070" stroke-opacity="0.65" stroke-width="1.5" fill="none"/><path d="M494.91 249.96h3.2M494.91 253.81h3.2" stroke="#4a4a4a" stroke-width="0.8" fill="none"/>
<path d="M499.97 196.37V209.18" stroke="#707070" stroke-opacity="0.65" stroke-width="1.5" fill="none"/><path d="M498.37 196.37h3.2M498.37 209.18h3.2" stroke="#4a4a4a" stroke-width="0.8" fill="none"/>
<path d="M503.42 252.95V255.09" stroke="#707070" stroke-opacity="0.65" stroke-width="1.5" fill="none"/><path d="M501.82 252.95h3.2M501.82 255.09h3.2" stroke="#4a4a4a" stroke-width="0.8" fill="none"/>
<path d="M506.87 210.25V218.79" stroke="#707070" stroke-opacity="0.65" stroke-width="1.5" fill="none"/><path d="M505.27 210.25h3.2M505.27 218.79h3.2" stroke="#4a4a4a" stroke-width="0.8" fill="none"/>
<path d="M510.33 254.45V256.15" stroke="#707070" stroke-opacity="0.65" stroke-width="1.5" fill="none"/><path d="M508.73 254.45h3.2M508.73 256.15h3.2" stroke="#4a4a4a" stroke-width="0.8" fill="none"/>
<path d="M513.78 239.07V244.63" stroke="#707070" stroke-opacity="0.65" stroke-width="1.5" fill="none"/><path d="M512.18 239.07h3.2M512.18 244.63h3.2" stroke="#4a4a4a" stroke-width="0.8" fill="none"/>
<path d="M517.23 260.64V261.49" stroke="#707070" stroke-opacity="0.65" stroke-width="1.5" fill="none"/><path d="M515.63 260.64h3.2M515.63 261.49h3.2" stroke="#4a4a4a" stroke-width="0.8" fill="none"/>
<path d="M520.68 243.56V248.68" stroke="#707070" stroke-opacity="0.65" stroke-width="1.5" fill="none"/><path d="M519.08 243.56h3.2M519.08 248.68h3.2" stroke="#4a4a4a" stroke-width="0.8" fill="none"/>
<path d="M524.14 261.06V261.49" stroke="#707070" stroke-opacity="0.65" stroke-width="1.5" fill="none"/><path d="M522.54 261.06h3.2M522.54 261.49h3.2" stroke="#4a4a4a" stroke-width="0.8" fill="none"/>
<rect x="45.4" y="7.0" width="483.0" height="256.2" fill="none" stroke="#000" stroke-width="2"/>
<rect x="61.4" y="19.3" width="322.1" height="38.3" fill="#fff" stroke="#222" stroke-width="1.5"/>
<rect x="64.9" y="26.6" width="4" height="4" fill="#1f6fd1"/>
<text x="70.7" y="31.7" font-size="9" fill="#1a1a1a" xml:space="preserve">45 Sc</text>
<rect x="105.2" y="26.6" width="4" height="4" fill="#fb7424"/>
<text x="111.0" y="31.7" font-size="9" fill="#1a1a1a" xml:space="preserve">89  Y</text>
<rect x="145.5" y="26.6" width="4" height="4" fill="#a8a8a8"/>
<text x="151.3" y="31.7" font-size="9" fill="#1a1a1a" xml:space="preserve">139  La</text>
<rect x="185.8" y="26.6" width="4" height="4" fill="#ffc20e"/>
<text x="191.6" y="31.7" font-size="9" fill="#1a1a1a" xml:space="preserve">140  Ce</text>
<rect x="226.1" y="26.6" width="4" height="4" fill="#1ea0e8"/>
<text x="231.9" y="31.7" font-size="9" fill="#1a1a1a" xml:space="preserve">141  Pr</text>
<rect x="266.4" y="26.6" width="4" height="4" fill="#3aae3a"/>
<text x="272.2" y="31.7" font-size="9" fill="#1a1a1a" xml:space="preserve">146  Nd</text>
<rect x="306.7" y="26.6" width="4" height="4" fill="#163f8a"/>
<text x="312.5" y="31.7" font-size="9" fill="#1a1a1a" xml:space="preserve">147  Sm</text>
<rect x="347.0" y="26.6" width="4" height="4" fill="#b6440e"/>
<text x="352.8" y="31.7" font-size="9" fill="#1a1a1a" xml:space="preserve">153  Eu</text>
<rect x="64.9" y="46.3" width="4" height="4" fill="#5e5e5e"/>
<text x="70.7" y="51.4" font-size="9" fill="#1a1a1a" xml:space="preserve">157  Gd</text>
<rect x="105.2" y="46.3" width="4" height="4" fill="#a6760a"/>
<text x="111.0" y="51.4" font-size="9" fill="#1a1a1a" xml:space="preserve">159  Tb</text>
<rect x="145.5" y="46.3" width="4" height="4" fill="#0f5c9e"/>
<text x="151.3" y="51.4" font-size="9" fill="#1a1a1a" xml:space="preserve">163  Dy</text>
<rect x="185.8" y="46.3" width="4" height="4" fill="#2b6b1f"/>
<text x="191.6" y="51.4" font-size="9" fill="#1a1a1a" xml:space="preserve">165  Ho</text>
<rect x="226.1" y="46.3" width="4" height="4" fill="#5c9ae0"/>
<text x="231.9" y="51.4" font-size="9" fill="#1a1a1a" xml:space="preserve">166  Er</text>
<rect x="266.4" y="46.3" width="4" height="4" fill="#f39a5a"/>
<text x="272.2" y="51.4" font-size="9" fill="#1a1a1a" xml:space="preserve">169  Tm</text>
<rect x="306.7" y="46.3" width="4" height="4" fill="#bababa"/>
<text x="312.5" y="51.4" font-size="9" fill="#1a1a1a" xml:space="preserve">172  Yb</text>
<rect x="347.0" y="46.3" width="4" height="4" fill="#ffcb2f"/>
<text x="352.8" y="51.4" font-size="9" fill="#1a1a1a" xml:space="preserve">175  Lu</text>
<text x="501.5" y="23.6" font-size="15" font-weight="bold" text-anchor="middle" fill="#111">(a)</text>
<text x="35.3" y="450.7" font-size="9" text-anchor="end" fill="#111">0</text>
<text x="35.3" y="425.4" font-size="9" text-anchor="end" fill="#111">1000</text>
<text x="35.3" y="400.2" font-size="9" text-anchor="end" fill="#111">2000</text>
<text x="35.3" y="374.9" font-size="9" text-anchor="end" fill="#111">3000</text>
<text x="35.3" y="349.7" font-size="9" text-anchor="end" fill="#111">4000</text>
<text x="35.3" y="324.4" font-size="9" text-anchor="end" fill="#111">5000</text>
<text x="42.3" y="462.1" font-size="9" text-anchor="middle" fill="#111">0</text>
<text x="92.0" y="462.1" font-size="9" text-anchor="middle" fill="#111">20</text>
<text x="141.8" y="462.1" font-size="9" text-anchor="middle" fill="#111">40</text>
<text x="191.5" y="462.1" font-size="9" text-anchor="middle" fill="#111">60</text>
<text x="241.2" y="462.1" font-size="9" text-anchor="middle" fill="#111">80</text>
<text transform="translate(10.5,381.4) rotate(-90)" font-size="9" text-anchor="middle" fill="#111">Total Concentration/ppb</text>
<text x="142.1" y="473.5" font-size="9.8" text-anchor="middle" fill="#111" textLength="27.8" lengthAdjust="spacingAndGlyphs">Time/hr.</text>
<rect x="42.3" y="321.3" width="198.89999999999998" height="126.30000000000001" fill="none" stroke="#000" stroke-width="2"/>
<path d="M42.30 426.00 L44.79 415.49 L47.27 387.20 L52.24 379.40 L62.19 371.39 L101.97 361.01 L161.64 345.70 L221.31 342.70" fill="none" stroke="#14b0e8" stroke-width="2.4" stroke-linejoin="round"/>
<path d="M62.19 367.73V375.05M60.39 367.73h3.6M60.39 375.05h3.6" stroke="#555" stroke-width="0.9" fill="none"/>
<path d="M221.31 339.92V345.47M219.51 339.92h3.6M219.51 345.47h3.6" stroke="#555" stroke-width="0.9" fill="none"/>
<circle cx="42.30" cy="426.00" r="1.9" fill="#b8e02c" stroke="#26a86a" stroke-width="0.7"/>
<circle cx="44.79" cy="415.49" r="1.9" fill="#b8e02c" stroke="#26a86a" stroke-width="0.7"/>
<circle cx="47.27" cy="387.20" r="1.9" fill="#b8e02c" stroke="#26a86a" stroke-width="0.7"/>
<circle cx="52.24" cy="379.40" r="1.9" fill="#b8e02c" stroke="#26a86a" stroke-width="0.7"/>
<circle cx="62.19" cy="371.39" r="1.9" fill="#b8e02c" stroke="#26a86a" stroke-width="0.7"/>
<circle cx="101.97" cy="361.01" r="1.9" fill="#b8e02c" stroke="#26a86a" stroke-width="0.7"/>
<circle cx="161.64" cy="345.70" r="1.9" fill="#b8e02c" stroke="#26a86a" stroke-width="0.7"/>
<circle cx="221.31" cy="342.70" r="1.9" fill="#b8e02c" stroke="#26a86a" stroke-width="0.7"/>
<text x="224.6" y="431.6" font-size="15.5" font-weight="bold" text-anchor="middle" fill="#111">(b)</text>
<defs><linearGradient id="gl" x1="0" y1="0" x2="0" y2="1"><stop offset="0" stop-color="#fff" stop-opacity="0.12"/><stop offset="0.55" stop-color="#fff" stop-opacity="0.05"/><stop offset="1" stop-color="#000" stop-opacity="0.06"/></linearGradient></defs>
<path d="M321.70 373.10L370.06 364.05A49.2 49.2 0 0 1 370.11 381.90Z" fill="#a6d3f3" stroke="#5b9bd5" stroke-width="0.9" stroke-linejoin="round"/>
<path d="M321.70 373.10L370.11 381.90A49.2 49.2 0 0 1 317.24 422.10Z" fill="#8eaadc" stroke="#4472c4" stroke-width="0.9" stroke-linejoin="round"/>
<path d="M321.70 373.10L317.24 422.10A49.2 49.2 0 0 1 275.18 389.12Z" fill="#f8a884" stroke="#ed7d31" stroke-width="0.9" stroke-linejoin="round"/>
<path d="M321.70 373.10L275.18 389.12A49.2 49.2 0 0 1 279.35 348.06Z" fill="#c9c9c9" stroke="#a5a5a5" stroke-width="0.9" stroke-linejoin="round"/>
<path d="M321.70 373.10L279.35 348.06A49.2 49.2 0 0 1 302.16 327.95Z" fill="#ffd77c" stroke="#ffc000" stroke-width="0.9" stroke-linejoin="round"/>
<path d="M321.70 373.10L302.16 327.95A49.2 49.2 0 0 1 321.96 323.90Z" fill="#9dc3e6" stroke="#5b9bd5" stroke-width="0.9" stroke-linejoin="round"/>
<path d="M321.70 373.10L321.96 323.90A49.2 49.2 0 0 1 339.97 327.42Z" fill="#a9d18e" stroke="#70ad47" stroke-width="0.9" stroke-linejoin="round"/>
<path d="M321.70 373.10L339.97 327.42A49.2 49.2 0 0 1 354.37 336.31Z" fill="#8797b2" stroke="#264478" stroke-width="0.9" stroke-linejoin="round"/>
<path d="M321.70 373.10L354.37 336.31A49.2 49.2 0 0 1 363.92 347.83Z" fill="#d9917c" stroke="#c55a11" stroke-width="0.9" stroke-linejoin="round"/>
<path d="M321.70 373.10L363.92 347.83A49.2 49.2 0 0 1 367.54 355.23Z" fill="#a3a3a3" stroke="#636363" stroke-width="0.9" stroke-linejoin="round"/>
<path d="M321.70 373.10L367.54 355.23A49.2 49.2 0 0 1 370.06 364.05Z" fill="#d2a87c" stroke="#997300" stroke-width="0.9" stroke-linejoin="round"/>
<circle cx="321.7" cy="373.1" r="49.2" fill="url(#gl)"/>
<path d="M480.70 373.10L516.89 380.79A37 37 0 0 1 457.42 401.85Z" fill="#7f9cc9" stroke="#2e75b6" stroke-width="0.9" stroke-linejoin="round"/>
<path d="M480.70 373.10L457.42 401.85A37 37 0 0 1 448.34 355.16Z" fill="#9aab93" stroke="#548235" stroke-width="0.9" stroke-linejoin="round"/>
<path d="M480.70 373.10L448.34 355.16A37 37 0 0 1 483.80 336.23Z" fill="#8ccf74" stroke="#5b9bd5" stroke-width="0.9" stroke-linejoin="round"/>
<path d="M480.70 373.10L483.80 336.23A37 37 0 0 1 514.15 357.29Z" fill="#8bc4ee" stroke="#f1975a" stroke-width="0.9" stroke-linejoin="round"/>
<path d="M480.70 373.10L514.15 357.29A37 37 0 0 1 517.52 369.43Z" fill="#d6dce5" stroke="#b7b7b7" stroke-width="0.9" stroke-linejoin="round"/>
<path d="M480.70 373.10L517.52 369.43A37 37 0 0 1 516.89 380.79Z" fill="#c0c0c0" stroke="#ffc000" stroke-width="0.9" stroke-linejoin="round"/>
<circle cx="480.7" cy="373.1" r="37" fill="url(#gl)"/>
<path d="M371 365L456 341.2M370 381L457.5 406.5" stroke="#8c8c8c" stroke-width="0.9" stroke-dasharray="2.6 2" fill="none"/>
<path d="M295.3 305.2H323.1V324.2H295.3Z" fill="#fff" stroke="#c4c4c4" stroke-width="0.8" stroke-linejoin="miter"/><text x="309.2" y="314.6" font-size="7.3" text-anchor="middle" fill="#1a1a1a" xml:space="preserve">157  Gd</text><text x="309.2" y="322.5" font-size="7.3" text-anchor="middle" fill="#1a1a1a" xml:space="preserve">7%</text>
<path d="M324.0 305.5H351.3V323.5H324.0Z" fill="#fff" stroke="#c4c4c4" stroke-width="0.8" stroke-linejoin="miter"/><text x="337.6" y="314.4" font-size="7.3" text-anchor="middle" fill="#1a1a1a" xml:space="preserve">163  Dy</text><text x="337.6" y="322.3" font-size="7.3" text-anchor="middle" fill="#1a1a1a" xml:space="preserve">6%</text>
<path d="M353.7 305.8H382.8V323.8H361L348.7 330.9L355.5 323.8H353.7Z" fill="#fff" stroke="#c4c4c4" stroke-width="0.8" stroke-linejoin="miter"/><text x="368.2" y="314.8" font-size="7.3" text-anchor="middle" fill="#1a1a1a" xml:space="preserve">147  Sm</text><text x="368.2" y="322.6" font-size="7.3" text-anchor="middle" fill="#1a1a1a" xml:space="preserve">5%</text>
<path d="M268.4 317.5H289.6V336H268.4Z" fill="#fff" stroke="#c4c4c4" stroke-width="0.8" stroke-linejoin="miter"/><text x="279.0" y="326.7" font-size="7.3" text-anchor="middle" fill="#1a1a1a" xml:space="preserve">45 Sc</text><text x="279.0" y="334.6" font-size="7.3" text-anchor="middle" fill="#1a1a1a" xml:space="preserve">10%</text>
<path d="M361.4 327.2H387.5V345.1H376L366.5 352.2L370 345.1H361.4Z" fill="#fff" stroke="#c4c4c4" stroke-width="0.8" stroke-linejoin="miter"/><text x="374.4" y="336.1" font-size="7.3" text-anchor="middle" fill="#1a1a1a" xml:space="preserve">139  La</text><text x="374.4" y="344.0" font-size="7.3" text-anchor="middle" fill="#1a1a1a" xml:space="preserve">5%</text>
<path d="M388 328H413.7V346.1H393L367.8 356L388.5 346.1H388Z" fill="#fff" stroke="#c4c4c4" stroke-width="0.8" stroke-linejoin="miter"/><text x="400.9" y="337.0" font-size="7.3" text-anchor="middle" fill="#1a1a1a" xml:space="preserve">141  Pr</text><text x="400.9" y="344.9" font-size="7.3" text-anchor="middle" fill="#1a1a1a" xml:space="preserve">3%</text>
<path d="M372.3 347.9H397.9V364.8H372.3V358L366.5 361L372.3 353Z" fill="#fff" stroke="#c4c4c4" stroke-width="0.8" stroke-linejoin="miter"/><text x="385.1" y="356.3" font-size="7.3" text-anchor="middle" fill="#1a1a1a" xml:space="preserve">166  Er</text><text x="385.1" y="364.2" font-size="7.3" text-anchor="middle" fill="#1a1a1a" xml:space="preserve">3%</text>
<path d="M372.3 366.7H392.4V384.6H372.3Z" fill="#fff" stroke="#c4c4c4" stroke-width="0.8" stroke-linejoin="miter"/><text x="382.4" y="375.6" font-size="7.3" text-anchor="middle" fill="#1a1a1a" xml:space="preserve">Other</text><text x="382.4" y="383.5" font-size="7.3" text-anchor="middle" fill="#1a1a1a" xml:space="preserve">5%</text>
<path d="M276.4 364.6H303.9V381.3H276.4V370L273.7 368.2L276.4 366.4Z" fill="#fff" stroke="#c4c4c4" stroke-width="0.8" stroke-linejoin="miter"/><text x="290.1" y="372.9" font-size="7.3" text-anchor="middle" fill="#1a1a1a" xml:space="preserve">146  Nd</text><text x="290.1" y="380.8" font-size="7.3" text-anchor="middle" fill="#1a1a1a" xml:space="preserve">14%</text>
<path d="M288.6 389.7H314V408.2H294.9L291.3 411.2L291.3 408.2H288.6Z" fill="#fff" stroke="#c4c4c4" stroke-width="0.8" stroke-linejoin="miter"/><text x="301.3" y="398.9" font-size="7.3" text-anchor="middle" fill="#1a1a1a" xml:space="preserve">140  Ce</text><text x="301.3" y="406.8" font-size="7.3" text-anchor="middle" fill="#1a1a1a" xml:space="preserve">18%</text>
<path d="M331.3 392.1H351.3V410.4H349.8L349.8 413L345 410.4H331.3Z" fill="#fff" stroke="#c4c4c4" stroke-width="0.8" stroke-linejoin="miter"/><text x="341.3" y="401.2" font-size="7.3" text-anchor="middle" fill="#1a1a1a" xml:space="preserve">89  Y</text><text x="341.3" y="409.1" font-size="7.3" text-anchor="middle" fill="#1a1a1a" xml:space="preserve">24%</text>
<path d="M443.6 321.5H469.5V339.5H443.6Z" fill="#fff" stroke="#c4c4c4" stroke-width="0.8" stroke-linejoin="miter"/><text x="456.6" y="330.4" font-size="7.3" text-anchor="middle" fill="#1a1a1a" xml:space="preserve">159  Tb</text><text x="456.6" y="338.3" font-size="7.3" text-anchor="middle" fill="#1a1a1a" xml:space="preserve">1%</text>
<path d="M499.7 322.1H526.9V340.9H504L501.8 343L500.5 340.9H499.7Z" fill="#fff" stroke="#c4c4c4" stroke-width="0.8" stroke-linejoin="miter"/><text x="513.3" y="331.4" font-size="7.3" text-anchor="middle" fill="#1a1a1a" xml:space="preserve">165  Ho</text><text x="513.3" y="339.3" font-size="7.3" text-anchor="middle" fill="#1a1a1a" xml:space="preserve">1%</text>
<path d="M516.7 343H545.3V360.5H521L515 362L517.5 360.5H516.7Z" fill="#fff" stroke="#c4c4c4" stroke-width="0.8" stroke-linejoin="miter"/><text x="531.0" y="351.7" font-size="7.3" text-anchor="middle" fill="#1a1a1a" xml:space="preserve">169  Tm</text><text x="531.0" y="359.6" font-size="7.3" text-anchor="middle" fill="#1a1a1a" xml:space="preserve">0.34%</text>
<path d="M518 362.9H545.3V381H518Z" fill="#fff" stroke="#c4c4c4" stroke-width="0.8" stroke-linejoin="miter"/><text x="531.6" y="371.9" font-size="7.3" text-anchor="middle" fill="#1a1a1a" xml:space="preserve">175  Lu</text><text x="531.6" y="379.8" font-size="7.3" text-anchor="middle" fill="#1a1a1a" xml:space="preserve">0.29%</text>
<path d="M457.5 361.8H471.4V389.1H457.5V382.5L445 378.8L457.5 375.9Z" fill="#fff" stroke="#c4c4c4" stroke-width="0.8" stroke-linejoin="miter"/><text x="464.4" y="371.2" font-size="7.3" text-anchor="middle" fill="#1a1a1a" xml:space="preserve">153</text><text x="464.4" y="379.4" font-size="7.3" text-anchor="middle" fill="#1a1a1a" xml:space="preserve">Eu</text><text x="464.4" y="387.4" font-size="7.3" text-anchor="middle" fill="#1a1a1a" xml:space="preserve">1%</text>
<path d="M477 381H504.2V399.5H500.4L493.1 407.4L493.1 399.5H477Z" fill="#fff" stroke="#c4c4c4" stroke-width="0.8" stroke-linejoin="miter"/><text x="490.6" y="390.2" font-size="7.3" text-anchor="middle" fill="#1a1a1a" xml:space="preserve">172  Yb</text><text x="490.6" y="398.1" font-size="7.3" text-anchor="middle" fill="#1a1a1a" xml:space="preserve">2%</text>
<text x="501.3" y="431.6" font-size="15" font-weight="bold" text-anchor="middle" fill="#111">(c)</text>
<rect x="282.7" y="443.2" width="3.8" height="3.8" rx="0.3" fill="#8eaadc" stroke="#4472c4" stroke-width="1"/>
<text x="287.5" y="447.5" font-size="7.4" fill="#111" xml:space="preserve">89  Y</text>
<rect x="313.4" y="443.2" width="3.8" height="3.8" rx="0.3" fill="#f8a884" stroke="#ed7d31" stroke-width="1"/>
<text x="318.2" y="447.5" font-size="7.4" fill="#111" xml:space="preserve">140  Ce</text>
<rect x="344.2" y="443.2" width="3.8" height="3.8" rx="0.3" fill="#c9c9c9" stroke="#a5a5a5" stroke-width="1"/>
<text x="349.0" y="447.5" font-size="7.4" fill="#111" xml:space="preserve">146  Nd</text>
<rect x="374.9" y="443.2" width="3.8" height="3.8" rx="0.3" fill="#ffd77c" stroke="#ffc000" stroke-width="1"/>
<text x="379.8" y="447.5" font-size="7.4" fill="#111" xml:space="preserve">45 Sc</text>
<rect x="405.7" y="443.2" width="3.8" height="3.8" rx="0.3" fill="#9dc3e6" stroke="#5b9bd5" stroke-width="1"/>
<text x="410.5" y="447.5" font-size="7.4" fill="#111" xml:space="preserve">157  Gd</text>
<rect x="436.4" y="443.2" width="3.8" height="3.8" rx="0.3" fill="#a9d18e" stroke="#70ad47" stroke-width="1"/>
<text x="441.2" y="447.5" font-size="7.4" fill="#111" xml:space="preserve">163  Dy</text>
<rect x="467.2" y="443.2" width="3.8" height="3.8" rx="0.3" fill="#8797b2" stroke="#264478" stroke-width="1"/>
<text x="472.0" y="447.5" font-size="7.4" fill="#111" xml:space="preserve">147  Sm</text>
<rect x="497.9" y="443.2" width="3.8" height="3.8" rx="0.3" fill="#d9917c" stroke="#c55a11" stroke-width="1"/>
<text x="502.8" y="447.5" font-size="7.4" fill="#111" xml:space="preserve">139  La</text>
<rect x="282.7" y="456.0" width="3.8" height="3.8" rx="0.3" fill="#a3a3a3" stroke="#636363" stroke-width="1"/>
<text x="287.5" y="460.3" font-size="7.4" fill="#111" xml:space="preserve">141  Pr</text>
<rect x="313.4" y="456.0" width="3.8" height="3.8" rx="0.3" fill="#d2a87c" stroke="#997300" stroke-width="1"/>
<text x="318.2" y="460.3" font-size="7.4" fill="#111" xml:space="preserve">166  Er</text>
<rect x="344.2" y="456.0" width="3.8" height="3.8" rx="0.3" fill="#7f9cc9" stroke="#2e75b6" stroke-width="1"/>
<text x="349.0" y="460.3" font-size="7.4" fill="#111" xml:space="preserve">172  Yb</text>
<rect x="374.9" y="456.0" width="3.8" height="3.8" rx="0.3" fill="#9aab93" stroke="#548235" stroke-width="1"/>
<text x="379.8" y="460.3" font-size="7.4" fill="#111" xml:space="preserve">153  Eu</text>
<rect x="405.7" y="456.0" width="3.8" height="3.8" rx="0.3" fill="#8fd18a" stroke="#5b9bd5" stroke-width="1"/>
<text x="410.5" y="460.3" font-size="7.4" fill="#111" xml:space="preserve">159  Tb</text>
<rect x="436.4" y="456.0" width="3.8" height="3.8" rx="0.3" fill="#8bc4ee" stroke="#f1975a" stroke-width="1"/>
<text x="441.2" y="460.3" font-size="7.4" fill="#111" xml:space="preserve">165  Ho</text>
<rect x="467.2" y="456.0" width="3.8" height="3.8" rx="0.3" fill="#d6dce5" stroke="#b7b7b7" stroke-width="1"/>
<text x="472.0" y="460.3" font-size="7.4" fill="#111" xml:space="preserve">169  Tm</text>
<rect x="497.9" y="456.0" width="3.8" height="3.8" rx="0.3" fill="#c0c0c0" stroke="#ffc000" stroke-width="1"/>
<text x="502.8" y="460.3" font-size="7.4" fill="#111" xml:space="preserve">175  Lu</text>
</svg></body></html>
